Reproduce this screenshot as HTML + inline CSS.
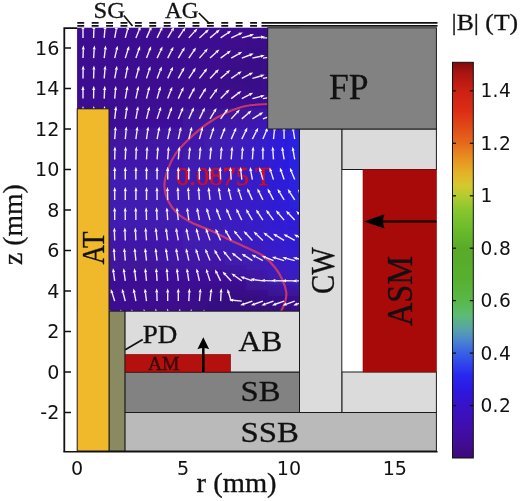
<!DOCTYPE html>
<html><head><meta charset="utf-8"><title>|B| field map</title>
<style>
html,body{margin:0;padding:0;background:#fff;}
svg{display:block}
.s{font-family:"Liberation Serif","DejaVu Serif",serif;fill:#111;stroke:#111;stroke-width:0.3px}
.d{font-family:"DejaVu Sans","Liberation Sans",sans-serif;font-size:19.1px;fill:#111}
.c{font-size:18.6px;letter-spacing:0.4px}
</style></head><body>
<svg width="520" height="501" viewBox="0 0 520 501">
<defs>
<clipPath id="hc"><rect x="77.2" y="27.8" width="222.3" height="283.5"/></clipPath>
<linearGradient id="vg" x1="0" y1="0" x2="0" y2="1">
<stop offset="0" stop-color="#4428d0" stop-opacity="0"/>
<stop offset="0.25" stop-color="#4428d0" stop-opacity="0.04"/>
<stop offset="0.42" stop-color="#4428d0" stop-opacity="0.32"/>
<stop offset="0.6" stop-color="#4428d0" stop-opacity="0.42"/>
<stop offset="0.8" stop-color="#4428d0" stop-opacity="0.32"/>
<stop offset="0.92" stop-color="#4428d0" stop-opacity="0.12"/>
<stop offset="1" stop-color="#4428d0" stop-opacity="0.05"/>
</linearGradient>
<radialGradient id="r1" gradientUnits="userSpaceOnUse" cx="300" cy="150" r="120">
<stop offset="0" stop-color="#2a24ea" stop-opacity="1"/>
<stop offset="0.25" stop-color="#2a24ea" stop-opacity="0.85"/>
<stop offset="0.6" stop-color="#3024e0" stop-opacity="0.35"/>
<stop offset="1" stop-color="#3024e0" stop-opacity="0"/>
</radialGradient>
<radialGradient id="r2" gradientUnits="userSpaceOnUse" cx="302" cy="262" r="60">
<stop offset="0" stop-color="#3428e4" stop-opacity="0.8"/>
<stop offset="1" stop-color="#3428e4" stop-opacity="0"/>
</radialGradient>
<radialGradient id="r3" gradientUnits="userSpaceOnUse" cx="250" cy="312" r="55" gradientTransform="translate(250 312) scale(1.4 0.6) translate(-250 -312)">
<stop offset="0" stop-color="#360878" stop-opacity="0.75"/>
<stop offset="1" stop-color="#360878" stop-opacity="0"/>
</radialGradient>
<filter id="bl" filterUnits="userSpaceOnUse" x="20" y="-30" width="360" height="420"><feGaussianBlur stdDeviation="8"/></filter>
<linearGradient id="cb" x1="0" y1="0" x2="0" y2="1"><stop offset="0.0000" stop-color="#7e0c0c"/><stop offset="0.0253" stop-color="#a81410"/><stop offset="0.0707" stop-color="#cc2014"/><stop offset="0.1212" stop-color="#dc2c14"/><stop offset="0.1717" stop-color="#e05018"/><stop offset="0.2071" stop-color="#e46c1c"/><stop offset="0.2424" stop-color="#e8901f"/><stop offset="0.2778" stop-color="#e4b028"/><stop offset="0.3106" stop-color="#d6c82e"/><stop offset="0.3384" stop-color="#b2cc30"/><stop offset="0.3737" stop-color="#88c62e"/><stop offset="0.4242" stop-color="#6aba2c"/><stop offset="0.4697" stop-color="#5aaa28"/><stop offset="0.5505" stop-color="#58b030"/><stop offset="0.6035" stop-color="#58b848"/><stop offset="0.6389" stop-color="#5cbc74"/><stop offset="0.6768" stop-color="#58a0ac"/><stop offset="0.7071" stop-color="#4880d4"/><stop offset="0.7348" stop-color="#3860e4"/><stop offset="0.7904" stop-color="#2828f0"/><stop offset="0.8283" stop-color="#2c18e0"/><stop offset="0.8662" stop-color="#3812c8"/><stop offset="0.9167" stop-color="#400eb0"/><stop offset="0.9672" stop-color="#420c90"/><stop offset="1.0000" stop-color="#3c0a78"/></linearGradient>
</defs>
<rect width="520" height="501" fill="#fff"/>
<g clip-path="url(#hc)">
<rect x="77.2" y="27.8" width="222.3" height="283.5" fill="#3e0e91"/>
<g filter="url(#bl)"><rect x="34.4" y="-13.2" width="64.5" height="61.8" fill="rgb(62,14,145)"/><rect x="97.9" y="-13.2" width="22.2" height="61.8" fill="rgb(62,14,145)"/><rect x="119.0" y="-13.2" width="22.2" height="61.8" fill="rgb(62,14,145)"/><rect x="140.2" y="-13.2" width="22.2" height="61.8" fill="rgb(62,14,145)"/><rect x="161.4" y="-13.2" width="22.2" height="61.8" fill="rgb(62,14,145)"/><rect x="182.6" y="-13.2" width="22.2" height="61.8" fill="rgb(62,14,145)"/><rect x="203.7" y="-13.2" width="22.2" height="61.8" fill="rgb(62,14,145)"/><rect x="224.9" y="-13.2" width="22.2" height="61.8" fill="rgb(60,13,141)"/><rect x="246.1" y="-13.2" width="22.2" height="61.8" fill="rgb(58,12,137)"/><rect x="267.2" y="-13.2" width="22.2" height="61.8" fill="rgb(62,14,145)"/><rect x="288.4" y="-13.2" width="64.5" height="61.8" fill="rgb(62,14,145)"/><rect x="34.4" y="47.5" width="64.5" height="21.2" fill="rgb(62,14,145)"/><rect x="97.9" y="47.5" width="22.2" height="21.2" fill="rgb(62,14,145)"/><rect x="119.0" y="47.5" width="22.2" height="21.2" fill="rgb(62,14,145)"/><rect x="140.2" y="47.5" width="22.2" height="21.2" fill="rgb(62,14,145)"/><rect x="161.4" y="47.5" width="22.2" height="21.2" fill="rgb(62,14,145)"/><rect x="182.6" y="47.5" width="22.2" height="21.2" fill="rgb(62,14,145)"/><rect x="203.7" y="47.5" width="22.2" height="21.2" fill="rgb(61,14,143)"/><rect x="224.9" y="47.5" width="22.2" height="21.2" fill="rgb(58,12,137)"/><rect x="246.1" y="47.5" width="22.2" height="21.2" fill="rgb(56,11,134)"/><rect x="267.2" y="47.5" width="22.2" height="21.2" fill="rgb(62,14,145)"/><rect x="288.4" y="47.5" width="64.5" height="21.2" fill="rgb(62,14,145)"/><rect x="34.4" y="67.8" width="64.5" height="21.2" fill="rgb(62,14,145)"/><rect x="97.9" y="67.8" width="22.2" height="21.2" fill="rgb(62,14,145)"/><rect x="119.0" y="67.8" width="22.2" height="21.2" fill="rgb(62,14,145)"/><rect x="140.2" y="67.8" width="22.2" height="21.2" fill="rgb(62,14,145)"/><rect x="161.4" y="67.8" width="22.2" height="21.2" fill="rgb(62,14,145)"/><rect x="182.6" y="67.8" width="22.2" height="21.2" fill="rgb(62,14,145)"/><rect x="203.7" y="67.8" width="22.2" height="21.2" fill="rgb(60,13,141)"/><rect x="224.9" y="67.8" width="22.2" height="21.2" fill="rgb(56,11,134)"/><rect x="246.1" y="67.8" width="22.2" height="21.2" fill="rgb(56,11,134)"/><rect x="267.2" y="67.8" width="22.2" height="21.2" fill="rgb(62,14,145)"/><rect x="288.4" y="67.8" width="64.5" height="21.2" fill="rgb(62,14,145)"/><rect x="34.4" y="88.0" width="64.5" height="21.2" fill="rgb(62,14,145)"/><rect x="97.9" y="88.0" width="22.2" height="21.2" fill="rgb(62,14,145)"/><rect x="119.0" y="88.0" width="22.2" height="21.2" fill="rgb(62,14,145)"/><rect x="140.2" y="88.0" width="22.2" height="21.2" fill="rgb(62,14,145)"/><rect x="161.4" y="88.0" width="22.2" height="21.2" fill="rgb(62,14,145)"/><rect x="182.6" y="88.0" width="22.2" height="21.2" fill="rgb(62,14,145)"/><rect x="203.7" y="88.0" width="22.2" height="21.2" fill="rgb(62,14,145)"/><rect x="224.9" y="88.0" width="22.2" height="21.2" fill="rgb(60,13,141)"/><rect x="246.1" y="88.0" width="22.2" height="21.2" fill="rgb(59,12,139)"/><rect x="267.2" y="88.0" width="22.2" height="21.2" fill="rgb(63,19,157)"/><rect x="288.4" y="88.0" width="64.5" height="21.2" fill="rgb(63,23,170)"/><rect x="34.4" y="108.2" width="64.5" height="21.2" fill="rgb(62,14,145)"/><rect x="97.9" y="108.2" width="22.2" height="21.2" fill="rgb(62,14,145)"/><rect x="119.0" y="108.2" width="22.2" height="21.2" fill="rgb(62,15,147)"/><rect x="140.2" y="108.2" width="22.2" height="21.2" fill="rgb(62,16,151)"/><rect x="161.4" y="108.2" width="22.2" height="21.2" fill="rgb(62,16,151)"/><rect x="182.6" y="108.2" width="22.2" height="21.2" fill="rgb(63,18,155)"/><rect x="203.7" y="108.2" width="22.2" height="21.2" fill="rgb(63,19,157)"/><rect x="224.9" y="108.2" width="22.2" height="21.2" fill="rgb(63,20,160)"/><rect x="246.1" y="108.2" width="22.2" height="21.2" fill="rgb(63,22,167)"/><rect x="267.2" y="108.2" width="22.2" height="21.2" fill="rgb(58,29,194)"/><rect x="288.4" y="108.2" width="64.5" height="21.2" fill="rgb(49,30,211)"/><rect x="34.4" y="128.5" width="64.5" height="21.2" fill="rgb(63,19,157)"/><rect x="97.9" y="128.5" width="22.2" height="21.2" fill="rgb(63,19,157)"/><rect x="119.0" y="128.5" width="22.2" height="21.2" fill="rgb(63,19,157)"/><rect x="140.2" y="128.5" width="22.2" height="21.2" fill="rgb(63,20,160)"/><rect x="161.4" y="128.5" width="22.2" height="21.2" fill="rgb(63,21,164)"/><rect x="182.6" y="128.5" width="22.2" height="21.2" fill="rgb(63,23,170)"/><rect x="203.7" y="128.5" width="22.2" height="21.2" fill="rgb(64,26,176)"/><rect x="224.9" y="128.5" width="22.2" height="21.2" fill="rgb(64,28,182)"/><rect x="246.1" y="128.5" width="22.2" height="21.2" fill="rgb(57,29,196)"/><rect x="267.2" y="128.5" width="22.2" height="21.2" fill="rgb(45,31,219)"/><rect x="288.4" y="128.5" width="64.5" height="21.2" fill="rgb(40,32,228)"/><rect x="34.4" y="148.8" width="64.5" height="21.2" fill="rgb(63,23,170)"/><rect x="97.9" y="148.8" width="22.2" height="21.2" fill="rgb(63,23,170)"/><rect x="119.0" y="148.8" width="22.2" height="21.2" fill="rgb(63,23,170)"/><rect x="140.2" y="148.8" width="22.2" height="21.2" fill="rgb(63,23,170)"/><rect x="161.4" y="148.8" width="22.2" height="21.2" fill="rgb(63,24,172)"/><rect x="182.6" y="148.8" width="22.2" height="21.2" fill="rgb(64,26,176)"/><rect x="203.7" y="148.8" width="22.2" height="21.2" fill="rgb(64,28,182)"/><rect x="224.9" y="148.8" width="22.2" height="21.2" fill="rgb(60,29,189)"/><rect x="246.1" y="148.8" width="22.2" height="21.2" fill="rgb(54,30,200)"/><rect x="267.2" y="148.8" width="22.2" height="21.2" fill="rgb(45,31,219)"/><rect x="288.4" y="148.8" width="64.5" height="21.2" fill="rgb(40,32,228)"/><rect x="34.4" y="169.0" width="64.5" height="21.2" fill="rgb(64,26,176)"/><rect x="97.9" y="169.0" width="22.2" height="21.2" fill="rgb(64,26,176)"/><rect x="119.0" y="169.0" width="22.2" height="21.2" fill="rgb(64,26,176)"/><rect x="140.2" y="169.0" width="22.2" height="21.2" fill="rgb(64,26,176)"/><rect x="161.4" y="169.0" width="22.2" height="21.2" fill="rgb(64,26,176)"/><rect x="182.6" y="169.0" width="22.2" height="21.2" fill="rgb(64,27,180)"/><rect x="203.7" y="169.0" width="22.2" height="21.2" fill="rgb(63,28,184)"/><rect x="224.9" y="169.0" width="22.2" height="21.2" fill="rgb(59,29,191)"/><rect x="246.1" y="169.0" width="22.2" height="21.2" fill="rgb(53,30,203)"/><rect x="267.2" y="169.0" width="22.2" height="21.2" fill="rgb(46,31,216)"/><rect x="288.4" y="169.0" width="64.5" height="21.2" fill="rgb(41,32,226)"/><rect x="34.4" y="189.2" width="64.5" height="21.2" fill="rgb(64,26,176)"/><rect x="97.9" y="189.2" width="22.2" height="21.2" fill="rgb(64,26,176)"/><rect x="119.0" y="189.2" width="22.2" height="21.2" fill="rgb(64,26,176)"/><rect x="140.2" y="189.2" width="22.2" height="21.2" fill="rgb(64,26,176)"/><rect x="161.4" y="189.2" width="22.2" height="21.2" fill="rgb(64,26,177)"/><rect x="182.6" y="189.2" width="22.2" height="21.2" fill="rgb(64,28,182)"/><rect x="203.7" y="189.2" width="22.2" height="21.2" fill="rgb(62,28,187)"/><rect x="224.9" y="189.2" width="22.2" height="21.2" fill="rgb(58,29,194)"/><rect x="246.1" y="189.2" width="22.2" height="21.2" fill="rgb(53,30,203)"/><rect x="267.2" y="189.2" width="22.2" height="21.2" fill="rgb(47,31,214)"/><rect x="288.4" y="189.2" width="64.5" height="21.2" fill="rgb(43,32,222)"/><rect x="34.4" y="209.5" width="64.5" height="21.2" fill="rgb(64,26,176)"/><rect x="97.9" y="209.5" width="22.2" height="21.2" fill="rgb(64,26,176)"/><rect x="119.0" y="209.5" width="22.2" height="21.2" fill="rgb(64,26,176)"/><rect x="140.2" y="209.5" width="22.2" height="21.2" fill="rgb(64,26,176)"/><rect x="161.4" y="209.5" width="22.2" height="21.2" fill="rgb(64,26,177)"/><rect x="182.6" y="209.5" width="22.2" height="21.2" fill="rgb(64,28,182)"/><rect x="203.7" y="209.5" width="22.2" height="21.2" fill="rgb(62,28,187)"/><rect x="224.9" y="209.5" width="22.2" height="21.2" fill="rgb(58,29,194)"/><rect x="246.1" y="209.5" width="22.2" height="21.2" fill="rgb(54,30,200)"/><rect x="267.2" y="209.5" width="22.2" height="21.2" fill="rgb(49,30,211)"/><rect x="288.4" y="209.5" width="64.5" height="21.2" fill="rgb(45,31,219)"/><rect x="34.4" y="229.8" width="64.5" height="21.2" fill="rgb(63,23,170)"/><rect x="97.9" y="229.8" width="22.2" height="21.2" fill="rgb(63,23,170)"/><rect x="119.0" y="229.8" width="22.2" height="21.2" fill="rgb(63,23,170)"/><rect x="140.2" y="229.8" width="22.2" height="21.2" fill="rgb(63,24,172)"/><rect x="161.4" y="229.8" width="22.2" height="21.2" fill="rgb(64,25,175)"/><rect x="182.6" y="229.8" width="22.2" height="21.2" fill="rgb(64,26,177)"/><rect x="203.7" y="229.8" width="22.2" height="21.2" fill="rgb(64,28,182)"/><rect x="224.9" y="229.8" width="22.2" height="21.2" fill="rgb(61,28,188)"/><rect x="246.1" y="229.8" width="22.2" height="21.2" fill="rgb(57,29,196)"/><rect x="267.2" y="229.8" width="22.2" height="21.2" fill="rgb(52,30,205)"/><rect x="288.4" y="229.8" width="64.5" height="21.2" fill="rgb(47,31,214)"/><rect x="34.4" y="250.0" width="64.5" height="21.2" fill="rgb(63,19,157)"/><rect x="97.9" y="250.0" width="22.2" height="21.2" fill="rgb(63,19,157)"/><rect x="119.0" y="250.0" width="22.2" height="21.2" fill="rgb(63,19,157)"/><rect x="140.2" y="250.0" width="22.2" height="21.2" fill="rgb(63,20,160)"/><rect x="161.4" y="250.0" width="22.2" height="21.2" fill="rgb(63,21,164)"/><rect x="182.6" y="250.0" width="22.2" height="21.2" fill="rgb(63,22,167)"/><rect x="203.7" y="250.0" width="22.2" height="21.2" fill="rgb(63,23,170)"/><rect x="224.9" y="250.0" width="22.2" height="21.2" fill="rgb(64,26,176)"/><rect x="246.1" y="250.0" width="22.2" height="21.2" fill="rgb(63,28,184)"/><rect x="267.2" y="250.0" width="22.2" height="21.2" fill="rgb(57,29,196)"/><rect x="288.4" y="250.0" width="64.5" height="21.2" fill="rgb(52,30,205)"/><rect x="34.4" y="270.2" width="64.5" height="21.2" fill="rgb(62,15,149)"/><rect x="97.9" y="270.2" width="22.2" height="21.2" fill="rgb(62,15,149)"/><rect x="119.0" y="270.2" width="22.2" height="21.2" fill="rgb(62,15,149)"/><rect x="140.2" y="270.2" width="22.2" height="21.2" fill="rgb(62,16,150)"/><rect x="161.4" y="270.2" width="22.2" height="21.2" fill="rgb(62,16,151)"/><rect x="182.6" y="270.2" width="22.2" height="21.2" fill="rgb(62,16,151)"/><rect x="203.7" y="270.2" width="22.2" height="21.2" fill="rgb(62,15,147)"/><rect x="224.9" y="270.2" width="22.2" height="21.2" fill="rgb(62,14,145)"/><rect x="246.1" y="270.2" width="22.2" height="21.2" fill="rgb(63,19,157)"/><rect x="267.2" y="270.2" width="22.2" height="21.2" fill="rgb(64,26,176)"/><rect x="288.4" y="270.2" width="64.5" height="21.2" fill="rgb(58,29,194)"/><rect x="34.4" y="290.5" width="64.5" height="61.8" fill="rgb(62,14,145)"/><rect x="97.9" y="290.5" width="22.2" height="61.8" fill="rgb(62,14,145)"/><rect x="119.0" y="290.5" width="22.2" height="61.8" fill="rgb(62,14,145)"/><rect x="140.2" y="290.5" width="22.2" height="61.8" fill="rgb(62,14,144)"/><rect x="161.4" y="290.5" width="22.2" height="61.8" fill="rgb(61,13,143)"/><rect x="182.6" y="290.5" width="22.2" height="61.8" fill="rgb(58,12,137)"/><rect x="203.7" y="290.5" width="22.2" height="61.8" fill="rgb(54,10,130)"/><rect x="224.9" y="290.5" width="22.2" height="61.8" fill="rgb(52,9,126)"/><rect x="246.1" y="290.5" width="22.2" height="61.8" fill="rgb(52,9,126)"/><rect x="267.2" y="290.5" width="22.2" height="61.8" fill="rgb(54,10,130)"/><rect x="288.4" y="290.5" width="64.5" height="61.8" fill="rgb(58,12,137)"/></g>
<path d="M267.5 104.0C263.9 104.3 252.8 104.6 246.0 106.0C239.2 107.4 233.4 109.6 227.0 112.5C220.6 115.4 213.9 119.0 207.5 123.5C201.1 128.0 193.8 134.4 188.5 139.5C183.2 144.6 179.0 148.9 175.5 154.0C172.0 159.1 169.4 164.7 167.6 170.0C165.8 175.3 164.4 181.0 164.4 186.0C164.4 191.0 165.5 195.5 167.6 200.0C169.7 204.5 173.0 209.2 177.0 213.0C181.0 216.8 185.9 219.7 191.5 222.6C197.1 225.5 204.3 227.7 210.7 230.6C217.1 233.5 224.6 237.4 230.0 240.0C235.4 242.6 237.6 243.4 243.0 246.0C248.4 248.6 257.2 251.9 262.5 255.5C267.8 259.1 271.7 263.4 275.0 267.5C278.3 271.6 280.6 275.8 282.5 280.0C284.4 284.2 285.9 288.8 286.3 292.5C286.7 296.2 285.9 299.3 285.0 302.5C284.1 305.7 281.7 310.0 281.0 311.5" fill="none" stroke="#cf3868" stroke-width="2.2" stroke-opacity="0.92" stroke-linecap="round"/>
<text class="s" x="176" y="185.3" font-size="25.5" textLength="95.5" lengthAdjust="spacingAndGlyphs" style="fill:#d20e1e;stroke:#d20e1e;stroke-width:0.45">0.0875 T</text>
<path d="M83.0 37.9L83.0 29.2M93.6 37.9L93.9 29.2M104.2 37.9L104.9 29.2M114.7 37.9L116.3 29.3M125.3 37.9L127.6 29.5M135.9 37.9L139.2 29.8M146.5 37.9L150.0 29.9M157.1 37.9L160.9 30.1M167.7 37.9L172.2 30.4M178.3 37.9L183.2 30.7M188.8 37.9L194.7 31.4M199.4 37.9L205.9 32.1M210.0 37.9L216.7 32.3M220.6 37.9L227.8 33.0M231.2 37.9L239.1 34.2M241.8 37.9L250.1 35.5M252.4 37.9L261.0 37.1M262.9 37.9L271.6 37.9M273.5 37.9L282.2 37.9M284.1 37.9L292.8 37.9M294.7 37.9L303.4 37.9M305.3 37.9L314.0 37.9M83.0 58.1L83.3 49.4M93.6 58.1L94.2 49.4M104.2 58.1L105.2 49.5M114.7 58.1L116.7 49.6M125.3 58.1L127.9 49.8M135.9 58.1L138.7 49.9M146.5 58.1L149.6 50.0M157.1 58.1L160.8 50.2M167.7 58.1L171.6 50.4M178.3 58.1L182.7 50.7M188.8 58.1L193.7 50.9M199.4 58.1L205.1 51.6M210.0 58.1L216.4 52.2M220.6 58.1L227.6 53.0M231.2 58.1L238.7 53.8M241.8 58.1L249.9 55.0M252.4 58.1L260.8 56.2M262.9 58.1L271.6 56.9M273.5 58.1L282.2 57.0M284.1 58.1L292.8 57.1M294.7 58.1L303.3 57.3M305.3 58.1L313.9 57.4M83.0 78.4L83.1 69.7M93.6 78.4L93.9 69.7M104.2 78.4L104.9 69.7M114.7 78.4L116.3 69.8M125.3 78.4L127.0 69.8M135.9 78.4L138.2 70.0M146.5 78.4L149.2 70.1M157.1 78.4L160.3 70.3M167.7 78.4L171.3 70.5M178.3 78.4L182.5 70.8M188.8 78.4L193.6 71.1M199.4 78.4L204.8 71.5M210.0 78.4L216.1 72.1M220.6 78.4L227.2 72.7M231.2 78.4L238.4 73.5M241.8 78.4L249.5 74.4M252.4 78.4L260.7 76.0M262.9 78.4L271.5 76.9M273.5 78.4L282.1 76.9M284.1 78.4L292.7 77.0M294.7 78.4L303.3 77.1M305.3 78.4L313.9 77.2M83.0 98.6L83.0 89.9M93.6 98.6L93.7 89.9M104.2 98.6L104.6 89.9M114.7 98.6L115.5 90.0M125.3 98.6L126.8 90.1M135.9 98.6L137.7 90.1M146.5 98.6L148.6 90.2M157.1 98.6L159.5 90.3M167.7 98.6L170.8 90.5M178.3 98.6L181.9 90.7M188.8 98.6L192.9 90.9M199.4 98.6L204.0 91.2M210.0 98.6L215.1 91.6M220.6 98.6L226.6 92.4M231.2 98.6L238.1 93.4M241.8 98.6L249.5 94.7M252.4 98.6L260.8 96.4M262.9 98.6L271.5 97.1M273.5 98.6L282.1 97.2M284.1 98.6L292.7 97.3M294.7 98.6L303.3 97.3M305.3 98.6L313.9 97.4M83.0 118.9L83.0 110.2M93.6 118.9L93.7 110.2M104.2 118.9L104.5 110.2M114.7 118.9L115.7 110.2M125.3 118.9L126.5 110.3M135.9 118.9L137.4 110.3M146.5 118.9L148.6 110.4M157.1 118.9L159.8 110.6M167.7 118.9L170.6 110.7M178.3 118.9L181.7 110.9M188.8 118.9L192.4 110.9M199.4 118.9L203.2 111.1M210.0 118.9L214.5 111.4M220.6 118.9L225.7 111.8M231.2 118.9L237.1 112.5M241.8 118.9L248.4 113.3M252.4 118.9L259.8 114.4M262.9 118.9L271.1 115.9M273.5 118.9L281.8 116.1M284.1 118.9L292.4 116.3M294.7 118.9L303.0 116.4M305.3 118.9L313.7 116.6M83.0 139.1L83.0 130.4M93.6 139.1L93.7 130.4M104.2 139.1L104.5 130.4M114.7 139.1L115.4 130.4M125.3 139.1L126.1 130.5M135.9 139.1L137.0 130.5M146.5 139.1L147.7 130.5M157.1 139.1L158.7 130.6M167.7 139.1L169.5 130.6M178.3 139.1L180.2 130.6M188.8 139.1L190.9 130.7M199.4 139.1L201.7 130.7M210.0 139.1L212.7 130.9M220.6 139.1L223.7 131.0M231.2 139.1L234.7 131.2M241.8 139.1L245.6 131.3M252.4 139.1L256.3 131.4M262.9 139.1L266.3 131.1M273.5 139.1L274.4 130.5M284.1 139.1L284.0 130.4M294.7 139.1L293.3 130.5M305.3 139.1L303.2 130.7M83.0 159.4L83.0 150.7M93.6 159.4L93.6 150.7M104.2 159.4L104.3 150.7M114.7 159.4L114.9 150.7M125.3 159.4L125.6 150.7M135.9 159.4L136.2 150.7M146.5 159.4L147.0 150.7M157.1 159.4L157.7 150.7M167.7 159.4L168.4 150.7M178.3 159.4L179.0 150.7M188.8 159.4L189.6 150.7M199.4 159.4L200.2 150.7M210.0 159.4L210.8 150.7M220.6 159.4L221.3 150.7M231.2 159.4L231.9 150.7M241.8 159.4L242.4 150.7M252.4 159.4L253.0 150.7M262.9 159.4L262.9 150.7M273.5 159.4L272.9 150.7M284.1 159.4L282.7 150.8M294.7 159.4L293.2 150.8M305.3 159.4L303.6 150.8M83.0 179.6L83.0 170.9M93.6 179.6L93.6 170.9M104.2 179.6L104.2 170.9M114.7 179.6L114.7 170.9M125.3 179.6L125.3 170.9M135.9 179.6L135.9 170.9M146.5 179.6L146.5 170.9M157.1 179.6L157.1 170.9M167.7 179.6L167.7 170.9M178.3 179.6L178.3 170.9M188.8 179.6L188.8 170.9M199.4 179.6L199.3 170.9M210.0 179.6L209.8 170.9M220.6 179.6L220.3 170.9M231.2 179.6L230.6 170.9M241.8 179.6L240.9 171.0M252.4 179.6L250.8 171.1M262.9 179.6L260.5 171.3M273.5 179.6L270.8 171.4M284.1 179.6L281.3 171.4M294.7 179.6L291.4 171.6M305.3 179.6L301.7 171.7M83.0 199.9L83.0 191.2M93.6 199.9L93.6 191.2M104.2 199.9L104.2 191.2M114.7 199.9L114.7 191.2M125.3 199.9L125.3 191.2M135.9 199.9L135.9 191.2M146.5 199.9L146.5 191.2M157.1 199.9L157.0 191.2M167.7 199.9L167.5 191.2M178.3 199.9L178.0 191.2M188.8 199.9L188.4 191.2M199.4 199.9L198.8 191.2M210.0 199.9L209.0 191.2M220.6 199.9L219.2 191.3M231.2 199.9L229.2 191.4M241.8 199.9L239.1 191.6M252.4 199.9L248.8 191.9M262.9 199.9L259.1 192.1M273.5 199.9L269.4 192.2M284.1 199.9L279.6 192.4M294.7 199.9L290.0 192.6M305.3 199.9L300.3 192.7M83.0 220.1L83.0 211.4M93.6 220.1L93.5 211.4M104.2 220.1L104.1 211.4M114.7 220.1L114.7 211.4M125.3 220.1L125.2 211.4M135.9 220.1L135.8 211.4M146.5 220.1L146.3 211.4M157.1 220.1L156.7 211.4M167.7 220.1L167.1 211.4M178.3 220.1L177.3 211.5M188.8 220.1L187.6 211.5M199.4 220.1L197.8 211.6M210.0 220.1L207.6 211.8M220.6 220.1L217.6 211.9M231.2 220.1L227.8 212.1M241.8 220.1L238.0 212.3M252.4 220.1L248.0 212.6M262.9 220.1L258.2 212.8M273.5 220.1L268.4 213.1M284.1 220.1L278.5 213.5M294.7 220.1L288.8 213.8M305.3 220.1L299.1 214.0M83.0 240.4L83.0 231.7M93.6 240.4L93.5 231.7M104.2 240.4L104.0 231.7M114.7 240.4L114.4 231.7M125.3 240.4L125.0 231.7M135.9 240.4L135.5 231.7M146.5 240.4L145.8 231.7M157.1 240.4L156.2 231.7M167.7 240.4L166.5 231.8M178.3 240.4L176.7 231.8M188.8 240.4L187.0 231.9M199.4 240.4L197.2 232.0M210.0 240.4L207.2 232.1M220.6 240.4L217.1 232.4M231.2 240.4L226.8 232.8M241.8 240.4L236.3 233.6M252.4 240.4L246.4 234.0M262.9 240.4L256.6 234.4M273.5 240.4L266.7 235.0M284.1 240.4L276.7 235.9M294.7 240.4L287.1 236.2M305.3 240.4L297.6 236.3M83.0 260.6L83.0 251.9M93.6 260.6L93.4 251.9M104.2 260.6L103.8 251.9M114.7 260.6L114.1 251.9M125.3 260.6L124.6 252.0M135.9 260.6L135.0 252.0M146.5 260.6L145.5 252.0M157.1 260.6L156.0 252.0M167.7 260.6L166.4 252.0M178.3 260.6L176.7 252.1M188.8 260.6L186.9 252.1M199.4 260.6L196.9 252.3M210.0 260.6L206.8 252.6M220.6 260.6L216.2 253.1M231.2 260.6L225.7 253.9M241.8 260.6L234.9 255.3M252.4 260.6L245.1 255.9M262.9 260.6L255.3 256.5M273.5 260.6L265.5 257.4M284.1 260.6L275.8 258.1M294.7 260.6L286.3 258.4M305.3 260.6L296.8 258.5M83.0 280.9L81.8 272.3M93.6 280.9L92.4 272.3M104.2 280.9L103.0 272.3M114.7 280.9L113.5 272.3M125.3 280.9L124.1 272.3M135.9 280.9L134.9 272.2M146.5 280.9L145.6 272.2M157.1 280.9L156.5 272.2M167.7 280.9L167.1 272.2M178.3 280.9L177.3 272.2M188.8 280.9L187.5 272.3M199.4 280.9L197.5 272.4M210.0 280.9L207.3 272.6M220.6 280.9L216.8 273.1M231.2 280.9L225.2 274.5M241.8 280.9L234.7 275.8M252.4 280.9L244.2 277.9M262.9 280.9L254.3 279.7M273.5 280.9L264.8 280.6M284.1 280.9L275.4 280.7M294.7 280.9L286.0 280.8M305.3 280.9L296.6 280.9M83.0 301.1L80.3 292.9M93.6 301.1L90.9 292.9M104.2 301.1L101.5 292.9M114.7 301.1L112.1 292.9M125.3 301.1L123.1 292.7M135.9 301.1L134.3 292.6M146.5 301.1L145.4 292.5M157.1 301.1L156.8 292.4M167.7 301.1L167.7 292.4M178.3 301.1L178.3 292.4M188.8 301.1L189.3 292.4M199.4 301.1L200.2 292.5M210.0 301.1L210.9 292.5M220.6 301.1L221.1 292.4M231.2 301.1L228.6 292.8M241.8 301.1L233.1 300.2M252.4 301.1L244.1 304.0M262.9 301.1L254.7 304.0M273.5 301.1L265.3 304.0M284.1 301.1L275.9 304.0M294.7 301.1L286.5 304.1M305.3 301.1L297.1 304.1M83.0 321.4L79.3 313.5M93.6 321.4L89.9 313.5M104.2 321.4L100.5 313.5M114.7 321.4L111.1 313.5M125.3 321.4L122.0 313.3M135.9 321.4L132.9 313.2M146.5 321.4L144.7 312.9M157.1 321.4L156.2 312.7M167.7 321.4L167.7 312.7M178.3 321.4L179.5 312.8M188.8 321.4L190.7 312.9M199.4 321.4L202.8 313.4M210.0 321.4L215.6 314.7M220.6 321.4L228.8 318.4M231.2 321.4L239.4 324.4M241.8 321.4L233.6 324.4M252.4 321.4L244.2 324.4M262.9 321.4L254.8 324.4M273.5 321.4L265.3 324.4M284.1 321.4L275.9 324.4M294.7 321.4L286.5 324.4M305.3 321.4L297.1 324.4" fill="none" stroke="#f3eaff" stroke-width="1.4"/>
<path d="M83.0 25.1L84.5 29.2L81.4 29.2ZM94.0 25.1L95.4 29.2L92.3 29.1ZM105.3 25.1L106.5 29.3L103.4 29.1ZM117.0 25.3L117.8 29.6L114.7 29.0ZM128.6 25.5L129.1 29.9L126.1 29.1ZM140.7 26.0L140.6 30.4L137.7 29.2ZM151.7 26.2L151.5 30.6L148.6 29.3ZM162.7 26.4L162.3 30.7L159.5 29.4ZM174.3 26.9L173.5 31.2L170.8 29.6ZM185.6 27.4L184.5 31.6L182.0 29.9ZM197.4 28.4L195.8 32.4L193.5 30.4ZM208.9 29.3L206.9 33.2L204.9 30.9ZM219.8 29.6L217.7 33.5L215.7 31.1ZM231.2 30.7L228.7 34.3L226.9 31.7ZM242.8 32.5L239.7 35.6L238.4 32.8ZM254.1 34.3L250.6 37.0L249.7 34.0ZM265.1 36.8L261.2 38.7L260.9 35.6ZM275.7 37.9L271.6 39.4L271.6 36.3ZM286.3 37.9L282.2 39.4L282.2 36.3ZM296.9 37.9L292.8 39.4L292.8 36.3ZM307.5 37.9L303.4 39.4L303.4 36.3ZM318.1 37.9L314.0 39.4L314.0 36.3ZM83.4 45.3L84.8 49.5L81.7 49.4ZM94.5 45.4L95.7 49.6L92.6 49.3ZM105.7 45.4L106.8 49.7L103.7 49.3ZM117.6 45.7L118.2 50.0L115.2 49.3ZM129.1 45.9L129.4 50.3L126.4 49.4ZM140.1 46.0L140.2 50.4L137.3 49.4ZM151.1 46.2L151.1 50.6L148.2 49.4ZM162.5 46.5L162.2 50.9L159.4 49.6ZM173.5 46.7L173.0 51.1L170.2 49.7ZM184.8 47.2L184.1 51.5L181.4 49.9ZM196.0 47.5L195.0 51.8L192.4 50.0ZM207.8 48.5L206.3 52.6L204.0 50.5ZM219.4 49.4L217.4 53.3L215.3 51.1ZM231.0 50.6L228.5 54.3L226.7 51.8ZM242.3 51.7L239.5 55.1L237.9 52.4ZM253.7 53.5L250.4 56.5L249.3 53.6ZM264.8 55.2L261.2 57.7L260.5 54.7ZM275.6 56.3L271.8 58.4L271.3 55.4ZM286.2 56.5L282.3 58.6L282.0 55.5ZM296.8 56.7L292.9 58.7L292.6 55.6ZM307.4 56.8L303.5 58.8L303.2 55.7ZM318.0 57.0L314.1 58.9L313.8 55.8ZM83.2 65.6L84.7 69.7L81.6 69.6ZM94.0 65.6L95.4 69.7L92.3 69.6ZM105.3 65.6L106.5 69.8L103.4 69.6ZM117.0 65.8L117.8 70.1L114.7 69.5ZM127.8 65.8L128.5 70.1L125.5 69.5ZM139.2 66.0L139.7 70.4L136.7 69.6ZM150.5 66.2L150.7 70.6L147.7 69.6ZM161.9 66.5L161.8 70.9L158.9 69.7ZM173.1 66.8L172.8 71.1L169.9 69.8ZM184.5 67.2L183.8 71.5L181.1 70.0ZM195.8 67.6L194.9 71.9L192.3 70.2ZM207.3 68.3L206.0 72.5L203.6 70.6ZM218.9 69.2L217.2 73.2L214.9 71.0ZM230.3 70.0L228.2 73.8L226.1 71.5ZM241.8 71.2L239.3 74.8L237.5 72.2ZM253.2 72.6L250.2 75.8L248.8 73.0ZM264.7 74.8L261.1 77.5L260.3 74.5ZM275.5 76.2L271.8 78.4L271.2 75.3ZM286.1 76.3L282.4 78.5L281.8 75.4ZM296.7 76.4L292.9 78.5L292.5 75.5ZM307.4 76.5L303.5 78.6L303.1 75.6ZM318.0 76.6L314.1 78.7L313.7 75.6ZM83.0 85.8L84.5 89.9L81.4 89.9ZM93.8 85.8L95.3 90.0L92.2 89.9ZM104.8 85.8L106.2 90.0L103.1 89.9ZM115.9 85.9L117.0 90.1L114.0 89.8ZM127.6 86.0L128.4 90.3L125.3 89.8ZM138.6 86.1L139.2 90.4L136.2 89.8ZM149.6 86.2L150.1 90.6L147.1 89.8ZM160.6 86.3L161.0 90.7L158.0 89.8ZM172.3 86.7L172.2 91.1L169.3 89.9ZM183.7 87.0L183.3 91.4L180.5 90.1ZM194.9 87.3L194.3 91.7L191.6 90.2ZM206.2 87.8L205.4 92.1L202.7 90.4ZM217.5 88.3L216.4 92.5L213.9 90.7ZM229.5 89.4L227.8 93.4L225.5 91.3ZM241.4 90.9L239.1 94.6L237.2 92.2ZM253.2 92.8L250.2 96.1L248.8 93.3ZM264.7 95.3L261.2 97.9L260.4 94.9ZM275.5 96.4L271.8 98.6L271.2 95.6ZM286.1 96.5L282.4 98.7L281.8 95.7ZM296.7 96.6L292.9 98.8L292.5 95.7ZM307.4 96.7L303.5 98.9L303.1 95.8ZM318.0 96.8L314.1 98.9L313.7 95.9ZM83.0 106.1L84.5 110.2L81.4 110.2ZM93.8 106.1L95.3 110.2L92.2 110.1ZM104.6 106.1L106.0 110.2L102.9 110.1ZM116.1 106.1L117.2 110.4L114.1 110.1ZM127.1 106.2L128.1 110.5L125.0 110.0ZM138.1 106.3L139.0 110.6L135.9 110.0ZM149.6 106.5L150.1 110.8L147.1 110.1ZM161.0 106.7L161.3 111.1L158.3 110.1ZM172.1 106.8L172.1 111.2L169.2 110.2ZM183.3 107.1L183.1 111.5L180.2 110.3ZM194.0 107.2L193.8 111.6L191.0 110.3ZM205.0 107.4L204.6 111.7L201.8 110.4ZM216.6 107.9L215.8 112.2L213.2 110.6ZM228.1 108.5L227.0 112.7L224.5 110.9ZM239.9 109.5L238.2 113.6L236.0 111.5ZM251.6 110.6L249.4 114.5L247.4 112.1ZM263.3 112.3L260.6 115.7L259.0 113.1ZM275.0 114.5L271.6 117.4L270.6 114.4ZM285.6 114.8L282.3 117.5L281.3 114.6ZM296.3 115.0L292.9 117.7L291.9 114.8ZM307.0 115.3L303.5 117.9L302.6 115.0ZM317.6 115.6L314.1 118.1L313.3 115.1ZM83.0 126.3L84.5 130.4L81.4 130.4ZM93.8 126.3L95.3 130.5L92.2 130.4ZM104.6 126.3L106.0 130.5L102.9 130.4ZM115.6 126.4L116.9 130.6L113.8 130.3ZM126.4 126.4L127.6 130.6L124.5 130.3ZM137.5 126.4L138.5 130.7L135.4 130.3ZM148.3 126.4L149.2 130.7L146.2 130.3ZM159.5 126.6L160.3 130.9L157.2 130.3ZM170.3 126.6L171.0 130.9L168.0 130.3ZM181.1 126.7L181.7 131.0L178.7 130.3ZM191.9 126.7L192.5 131.1L189.4 130.3ZM202.7 126.8L203.2 131.1L200.2 130.3ZM214.0 127.0L214.2 131.3L211.2 130.4ZM225.2 127.2L225.2 131.6L222.3 130.4ZM236.4 127.4L236.1 131.8L233.3 130.5ZM247.4 127.6L247.0 132.0L244.2 130.6ZM258.2 127.7L257.7 132.1L254.9 130.7ZM267.9 127.3L267.8 131.7L264.9 130.5ZM274.9 126.4L276.0 130.6L272.9 130.3ZM283.9 126.3L285.5 130.4L282.4 130.5ZM292.7 126.5L294.9 130.3L291.8 130.8ZM302.2 126.7L304.7 130.3L301.7 131.1ZM83.0 146.6L84.5 150.7L81.4 150.7ZM93.7 146.6L95.2 150.7L92.1 150.7ZM104.3 146.6L105.8 150.7L102.7 150.7ZM115.0 146.6L116.4 150.7L113.3 150.6ZM125.7 146.6L127.1 150.7L124.0 150.6ZM136.4 146.6L137.8 150.7L134.7 150.6ZM147.2 146.6L148.5 150.8L145.4 150.6ZM158.0 146.6L159.2 150.8L156.1 150.6ZM168.7 146.6L169.9 150.8L166.8 150.6ZM179.4 146.6L180.6 150.8L177.5 150.6ZM190.0 146.6L191.1 150.8L188.1 150.6ZM200.5 146.6L201.7 150.8L198.6 150.6ZM211.1 146.6L212.3 150.8L209.2 150.6ZM221.7 146.6L222.9 150.8L219.8 150.6ZM232.2 146.6L233.4 150.8L230.3 150.6ZM242.7 146.6L244.0 150.8L240.9 150.6ZM253.2 146.6L254.5 150.8L251.4 150.6ZM262.9 146.6L264.5 150.7L261.4 150.7ZM272.6 146.6L274.5 150.6L271.4 150.8ZM282.1 146.7L284.3 150.5L281.2 151.0ZM292.5 146.8L294.7 150.5L291.7 151.1ZM302.8 146.8L305.1 150.5L302.1 151.1ZM83.0 166.8L84.5 170.9L81.4 170.9ZM93.6 166.8L95.1 170.9L92.0 170.9ZM104.2 166.8L105.7 170.9L102.6 170.9ZM114.7 166.8L116.3 170.9L113.2 170.9ZM125.3 166.8L126.9 170.9L123.8 170.9ZM135.9 166.8L137.5 170.9L134.4 170.9ZM146.5 166.8L148.1 170.9L145.0 170.9ZM157.1 166.8L158.6 170.9L155.5 170.9ZM167.7 166.8L169.2 170.9L166.1 170.9ZM178.3 166.8L179.8 170.9L176.7 170.9ZM188.8 166.8L190.4 170.9L187.3 170.9ZM199.3 166.8L200.9 170.9L197.8 170.9ZM209.7 166.8L211.4 170.9L208.3 171.0ZM220.2 166.8L221.8 170.9L218.7 171.0ZM230.3 166.9L232.1 170.8L229.0 171.1ZM240.4 166.9L242.4 170.8L239.3 171.1ZM250.1 167.0L252.4 170.8L249.3 171.3ZM259.4 167.3L262.0 170.8L259.0 171.7ZM269.6 167.5L272.3 170.9L269.4 171.8ZM279.9 167.5L282.7 170.9L279.8 171.9ZM289.9 167.8L292.9 171.0L290.0 172.1ZM300.1 167.9L303.2 171.0L300.3 172.3ZM83.0 187.1L84.5 191.2L81.4 191.2ZM93.6 187.1L95.1 191.2L92.0 191.2ZM104.2 187.1L105.7 191.2L102.6 191.2ZM114.7 187.1L116.3 191.2L113.2 191.2ZM125.3 187.1L126.9 191.2L123.8 191.2ZM135.9 187.1L137.5 191.2L134.4 191.2ZM146.5 187.1L148.1 191.2L145.0 191.2ZM156.9 187.1L158.5 191.2L155.4 191.2ZM167.4 187.1L169.0 191.1L165.9 191.2ZM177.8 187.1L179.5 191.1L176.4 191.2ZM188.2 187.1L189.9 191.1L186.8 191.3ZM198.5 187.1L200.4 191.1L197.3 191.3ZM208.5 187.2L210.5 191.1L207.4 191.4ZM218.6 187.2L220.8 191.0L217.7 191.5ZM228.3 187.4L230.7 191.0L227.7 191.7ZM237.8 187.7L240.6 191.1L237.6 192.1ZM247.1 188.2L250.2 191.3L247.4 192.6ZM257.3 188.4L260.5 191.4L257.7 192.7ZM267.5 188.6L270.8 191.5L268.1 192.9ZM277.5 188.9L281.0 191.6L278.3 193.2ZM287.7 189.1L291.3 191.7L288.7 193.4ZM297.9 189.4L301.6 191.9L299.0 193.6ZM83.0 207.3L84.5 211.4L81.4 211.4ZM93.5 207.3L95.1 211.4L92.0 211.4ZM104.1 207.3L105.7 211.4L102.6 211.4ZM114.6 207.3L116.2 211.4L113.1 211.4ZM125.2 207.3L126.8 211.4L123.7 211.4ZM135.7 207.3L137.3 211.4L134.2 211.5ZM146.2 207.3L147.8 211.4L144.7 211.5ZM156.5 207.3L158.3 211.4L155.2 211.5ZM166.8 207.4L168.6 211.3L165.5 211.6ZM176.9 207.4L178.9 211.3L175.8 211.6ZM187.1 207.4L189.2 211.3L186.1 211.7ZM197.0 207.6L199.3 211.3L196.2 211.9ZM206.5 207.8L209.1 211.3L206.1 212.2ZM216.2 208.1L219.1 211.4L216.2 212.5ZM226.2 208.3L229.2 211.5L226.4 212.7ZM236.2 208.6L239.3 211.6L236.6 213.0ZM246.0 209.0L249.3 211.8L246.7 213.4ZM256.0 209.4L259.5 212.0L256.9 213.7ZM266.0 209.8L269.7 212.2L267.2 214.0ZM275.9 210.3L279.7 212.5L277.3 214.5ZM286.0 210.8L289.9 212.7L287.6 214.8ZM296.2 211.1L300.2 212.9L298.0 215.1ZM83.0 227.6L84.5 231.7L81.4 231.7ZM93.4 227.6L95.0 231.7L91.9 231.7ZM103.9 227.6L105.5 231.6L102.4 231.7ZM114.3 227.6L116.0 231.6L112.9 231.7ZM124.8 227.6L126.5 231.6L123.4 231.8ZM135.2 227.6L137.0 231.6L133.9 231.8ZM145.5 227.6L147.4 231.6L144.3 231.8ZM155.7 227.6L157.7 231.6L154.6 231.9ZM165.9 227.7L168.0 231.5L164.9 232.0ZM176.0 227.8L178.3 231.5L175.2 232.1ZM186.2 227.9L188.5 231.5L185.5 232.2ZM196.1 228.0L198.7 231.6L195.7 232.4ZM205.8 228.3L208.6 231.6L205.7 232.7ZM215.4 228.7L218.5 231.8L215.6 233.1ZM224.8 229.3L228.2 232.1L225.5 233.6ZM233.7 230.4L237.5 232.6L235.1 234.6ZM243.6 231.0L247.6 233.0L245.3 235.1ZM253.6 231.6L257.6 233.3L255.5 235.6ZM263.4 232.5L267.6 233.8L265.7 236.2ZM273.1 233.8L277.4 234.6L275.9 237.2ZM283.5 234.2L287.8 234.8L286.3 237.5ZM294.0 234.4L298.3 234.9L296.9 237.7ZM83.0 247.8L84.5 251.9L81.4 251.9ZM93.3 247.8L94.9 251.9L91.8 252.0ZM103.6 247.8L105.3 251.9L102.2 252.0ZM113.9 247.9L115.7 251.8L112.6 252.1ZM124.2 247.9L126.1 251.8L123.0 252.1ZM134.6 247.9L136.5 251.8L133.5 252.1ZM145.1 247.9L147.1 251.8L144.0 252.2ZM155.5 247.9L157.6 251.8L154.5 252.2ZM165.8 248.0L167.9 251.8L164.9 252.2ZM176.0 248.0L178.3 251.8L175.2 252.3ZM186.0 248.2L188.4 251.8L185.4 252.5ZM195.7 248.4L198.4 251.9L195.4 252.8ZM205.2 248.8L208.2 252.0L205.3 253.1ZM214.2 249.5L217.6 252.3L214.9 253.9ZM223.1 250.7L226.9 252.9L224.5 254.8ZM231.7 252.7L235.9 254.0L234.0 256.5ZM241.6 253.7L245.9 254.6L244.2 257.2ZM251.6 254.6L256.0 255.2L254.5 257.9ZM261.7 255.8L266.0 255.9L264.9 258.8ZM271.9 256.9L276.2 256.6L275.3 259.6ZM282.3 257.3L286.7 256.9L285.9 259.9ZM292.9 257.5L297.2 257.0L296.5 260.0ZM81.2 268.2L83.3 272.0L80.2 272.5ZM91.8 268.2L93.9 272.0L90.8 272.5ZM102.4 268.2L104.5 272.0L101.4 272.5ZM113.0 268.2L115.1 272.0L112.0 272.5ZM123.6 268.2L125.7 272.0L122.6 272.5ZM134.4 268.2L136.4 272.1L133.3 272.4ZM145.2 268.1L147.1 272.1L144.1 272.4ZM156.2 268.1L158.0 272.1L154.9 272.3ZM166.8 268.1L168.6 272.1L165.5 272.3ZM176.9 268.1L178.9 272.1L175.8 272.4ZM186.8 268.2L189.0 272.0L186.0 272.5ZM196.5 268.4L199.0 272.0L196.0 272.7ZM206.1 268.7L208.8 272.1L205.8 273.1ZM215.0 269.4L218.2 272.4L215.4 273.7ZM222.5 271.5L226.4 273.5L224.1 275.6ZM231.4 273.4L235.6 274.5L233.8 277.0ZM240.3 276.5L244.7 276.4L243.6 279.4ZM250.3 279.1L254.5 278.1L254.1 281.2ZM260.7 280.4L264.9 279.0L264.8 282.1ZM271.3 280.6L275.4 279.1L275.4 282.2ZM281.9 280.7L286.0 279.2L286.0 282.3ZM292.5 280.9L296.6 279.3L296.6 282.4ZM79.0 289.0L81.8 292.4L78.8 293.3ZM89.6 289.0L92.4 292.4L89.4 293.3ZM100.2 289.0L102.9 292.4L100.0 293.3ZM110.8 289.0L113.5 292.4L110.6 293.3ZM122.0 288.8L124.6 292.3L121.6 293.1ZM133.5 288.6L135.8 292.3L132.7 292.9ZM144.9 288.4L147.0 292.3L143.9 292.7ZM156.6 288.3L158.3 292.4L155.2 292.5ZM167.7 288.3L169.2 292.4L166.1 292.4ZM178.3 288.3L179.8 292.4L176.7 292.4ZM189.5 288.3L190.8 292.5L187.7 292.4ZM200.5 288.4L201.7 292.6L198.6 292.3ZM211.4 288.4L212.5 292.6L209.4 292.3ZM221.3 288.3L222.6 292.5L219.5 292.4ZM227.4 288.9L230.1 292.4L227.2 293.3ZM229.0 299.8L233.3 298.7L233.0 301.8ZM240.2 305.3L243.6 302.5L244.6 305.4ZM250.8 305.3L254.2 302.5L255.2 305.4ZM261.4 305.4L264.8 302.6L265.8 305.5ZM272.0 305.4L275.4 302.6L276.4 305.5ZM282.6 305.5L286.0 302.6L287.0 305.5ZM293.2 305.5L296.6 302.6L297.6 305.6ZM77.6 309.8L80.7 312.8L77.9 314.1ZM88.2 309.8L91.3 312.8L88.5 314.1ZM98.8 309.8L101.9 312.8L99.1 314.1ZM109.3 309.8L112.5 312.8L109.7 314.1ZM120.4 309.5L123.4 312.7L120.6 313.9ZM131.5 309.3L134.4 312.7L131.5 313.7ZM143.8 308.9L146.2 312.5L143.2 313.2ZM155.7 308.6L157.7 312.6L154.6 312.9ZM167.7 308.6L169.2 312.7L166.1 312.7ZM180.0 308.7L181.0 313.0L177.9 312.5ZM191.5 308.9L192.2 313.2L189.1 312.5ZM204.4 309.6L204.3 314.0L201.4 312.8ZM218.2 311.6L216.8 315.7L214.4 313.7ZM232.6 317.0L229.3 319.9L228.2 316.9ZM243.2 325.8L238.8 325.8L239.9 322.9ZM229.7 325.8L233.1 322.9L234.1 325.8ZM240.3 325.8L243.6 322.9L244.7 325.8ZM250.9 325.8L254.2 322.9L255.3 325.8ZM261.5 325.8L264.8 322.9L265.9 325.8ZM272.1 325.8L275.4 322.9L276.5 325.8ZM282.7 325.8L286.0 322.9L287.0 325.8ZM293.2 325.8L296.6 322.9L297.6 325.8Z" fill="#ffffff" stroke="none"/>
</g>
<rect x="124.8" y="412.5" width="311.6" height="38.5" fill="#bababa" stroke="#1a1a1a" stroke-width="1"/>
<rect x="124.8" y="372.0" width="174.7" height="40.5" fill="#828282" stroke="#1a1a1a" stroke-width="1"/>
<rect x="124.8" y="311.2" width="174.7" height="60.8" fill="#dcdcdc" stroke="#1a1a1a" stroke-width="1"/>
<rect x="124.8" y="354.4" width="105.8" height="17.6" fill="#b4100e" stroke="#7a0a0a" stroke-width="0.6"/>
<rect x="341.8" y="372.0" width="94.6" height="40.5" fill="#dbdbdb" stroke="#1a1a1a" stroke-width="1"/>
<rect x="341.8" y="129.0" width="94.6" height="40.5" fill="#dbdbdb" stroke="#1a1a1a" stroke-width="1"/>
<rect x="299.5" y="129.0" width="42.3" height="283.5" fill="#dcdcdc" stroke="#1a1a1a" stroke-width="1"/>
<rect x="363.0" y="169.5" width="73.5" height="202.5" fill="#a80909" stroke="#8a0808" stroke-width="0.6"/>
<rect x="267.7" y="27.8" width="168.7" height="101.2" fill="#828282" stroke="#1a1a1a" stroke-width="1"/>
<rect x="109.0" y="311.2" width="15.9" height="139.7" fill="#8a8a62" stroke="#1a1a1a" stroke-width="1"/>
<rect x="77.2" y="108.8" width="31.8" height="342.2" fill="#f0b92c" stroke="#1a1a1a" stroke-width="1"/>
<line x1="77.3" y1="22.9" x2="258.5" y2="22.9" stroke="#111" stroke-width="1.6" stroke-dasharray="6.9 7.5"/><line x1="261.5" y1="22.9" x2="437.5" y2="22.9" stroke="#111" stroke-width="1.6"/><line x1="77.3" y1="25.9" x2="258.5" y2="25.9" stroke="#111" stroke-width="1.6" stroke-dasharray="6.9 7.5"/><line x1="261.5" y1="25.9" x2="437.5" y2="25.9" stroke="#111" stroke-width="1.6"/>
<g stroke="#111" stroke-width="1.8" fill="none">
<path d="M77.2 28.2H64.3V451.7" stroke-width="1.8"/><path d="M63.4 451.7H437.6" stroke-width="1.5"/>
</g>
<g stroke="#111" stroke-width="1.5"><line x1="64" y1="412.5" x2="71" y2="412.5"/><line x1="64" y1="372.0" x2="71" y2="372.0"/><line x1="64" y1="331.5" x2="71" y2="331.5"/><line x1="64" y1="291.0" x2="71" y2="291.0"/><line x1="64" y1="250.5" x2="71" y2="250.5"/><line x1="64" y1="210.0" x2="71" y2="210.0"/><line x1="64" y1="169.5" x2="71" y2="169.5"/><line x1="64" y1="129.0" x2="71" y2="129.0"/><line x1="64" y1="88.5" x2="71" y2="88.5"/><line x1="64" y1="48.0" x2="71" y2="48.0"/></g>
<g class="d"><text x="59.3" y="419.4" text-anchor="end">-2</text><text x="59.3" y="378.9" text-anchor="end">0</text><text x="59.3" y="338.4" text-anchor="end">2</text><text x="59.3" y="297.9" text-anchor="end">4</text><text x="59.3" y="257.4" text-anchor="end">6</text><text x="59.3" y="216.9" text-anchor="end">8</text><text x="59.3" y="176.4" text-anchor="end">10</text><text x="59.3" y="135.9" text-anchor="end">12</text><text x="59.3" y="95.4" text-anchor="end">14</text><text x="59.3" y="54.9" text-anchor="end">16</text><text x="77.2" y="475.3" text-anchor="middle">0</text><text x="183.1" y="475.3" text-anchor="middle">5</text><text x="288.9" y="475.3" text-anchor="middle">10</text><text x="394.8" y="475.3" text-anchor="middle">15</text></g>
<!-- block labels -->
<text class="s" x="329" y="99" font-size="35" textLength="39.6" lengthAdjust="spacingAndGlyphs">FP</text>
<text class="s" x="238.6" y="351.3" font-size="28.5" textLength="43.6" lengthAdjust="spacingAndGlyphs">AB</text>
<text class="s" x="240.6" y="401.3" font-size="29" textLength="40" lengthAdjust="spacingAndGlyphs">SB</text>
<text class="s" x="240.4" y="441.7" font-size="29" textLength="58.4" lengthAdjust="spacingAndGlyphs">SSB</text>
<text class="s" x="142.8" y="343" font-size="26" textLength="34.6" lengthAdjust="spacingAndGlyphs">PD</text>
<text class="s" x="148" y="369.6" font-size="18.5" textLength="31.4" lengthAdjust="spacingAndGlyphs" style="fill:#4a0606">AM</text>
<text class="s" x="93.6" y="17.5" font-size="23.5" textLength="31.4" lengthAdjust="spacingAndGlyphs">SG</text>
<text class="s" x="165" y="17.5" font-size="23.5" textLength="33.5" lengthAdjust="spacingAndGlyphs">AG</text>
<g transform="translate(104 264.5) rotate(-90) scale(1 1.08)"><text class="s" x="0" y="0" font-size="29" textLength="33" lengthAdjust="spacingAndGlyphs">AT</text></g>
<g transform="translate(333.6 294) rotate(-90) scale(1 1.13)"><text class="s" x="0" y="0" font-size="29" textLength="46.6" lengthAdjust="spacingAndGlyphs">CW</text></g>
<g transform="translate(411.6 326) rotate(-90) scale(1 1.1)"><text class="s" x="0" y="0" font-size="32" textLength="70" lengthAdjust="spacingAndGlyphs">ASM</text></g>
<g stroke="#111" stroke-width="1.7" fill="none">
<line x1="123.8" y1="15.5" x2="132.5" y2="26"/>
<line x1="198.8" y1="13" x2="209.5" y2="23.7"/>
<line x1="125.2" y1="349.8" x2="142.7" y2="339.4"/>
</g>
<!-- AM arrow -->
<line x1="203.3" y1="372" x2="203.3" y2="346" stroke="#000" stroke-width="2.5"/>
<path d="M203.3 337.3L209.2 349.2Q203.3 346.6 197.4 349.2Z" fill="#000"/>
<!-- ASM arrow -->
<line x1="436.5" y1="221.4" x2="380" y2="221.4" stroke="#000" stroke-width="2"/>
<path d="M364 221.4L384.5 214.3Q381.5 221.4 384.5 228.5Z" fill="#000"/>
<!-- axis labels -->
<text class="s" x="196.6" y="492.2" font-size="27" textLength="80" lengthAdjust="spacingAndGlyphs">r (mm)</text>
<g transform="translate(21.9 264.9) rotate(-90)"><text class="s" x="0" y="0" font-size="27.5" textLength="80.5" lengthAdjust="spacingAndGlyphs">z (mm)</text></g>
<!-- colorbar -->
<rect x="452.5" y="62.3" width="20.8" height="395.7" fill="url(#cb)" stroke="#111" stroke-width="1"/>
<g stroke="#111" stroke-width="1.3"><line x1="452.5" y1="405.6" x2="456" y2="405.6"/><line x1="473.3" y1="405.6" x2="469.8" y2="405.6"/><line x1="452.5" y1="353.1" x2="456" y2="353.1"/><line x1="473.3" y1="353.1" x2="469.8" y2="353.1"/><line x1="452.5" y1="300.6" x2="456" y2="300.6"/><line x1="473.3" y1="300.6" x2="469.8" y2="300.6"/><line x1="452.5" y1="248.2" x2="456" y2="248.2"/><line x1="473.3" y1="248.2" x2="469.8" y2="248.2"/><line x1="452.5" y1="195.8" x2="456" y2="195.8"/><line x1="473.3" y1="195.8" x2="469.8" y2="195.8"/><line x1="452.5" y1="143.3" x2="456" y2="143.3"/><line x1="473.3" y1="143.3" x2="469.8" y2="143.3"/><line x1="452.5" y1="90.8" x2="456" y2="90.8"/><line x1="473.3" y1="90.8" x2="469.8" y2="90.8"/></g>
<g class="d c"><text x="480.4" y="412.2">0.2</text><text x="480.4" y="359.7">0.4</text><text x="480.4" y="307.2">0.6</text><text x="480.4" y="254.8">0.8</text><text x="480.4" y="202.3">1</text><text x="480.4" y="149.9">1.2</text><text x="480.4" y="97.4">1.4</text></g>
<text class="s" x="451.6" y="30.4" font-size="24" textLength="66.5" lengthAdjust="spacingAndGlyphs">|B| (T)</text>
</svg>
</body></html>
